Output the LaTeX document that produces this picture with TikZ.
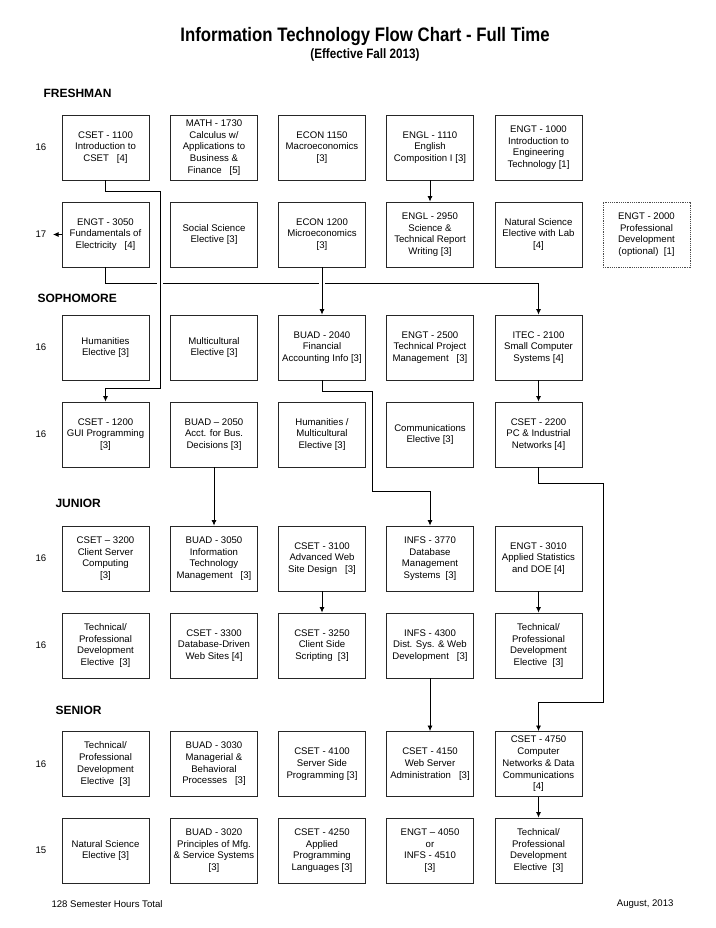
\documentclass[tikz,border=0pt]{standalone}
\usepackage{graphicx}
\usepackage{fontspec}
\setmainfont{Liberation Sans}
\usetikzlibrary{arrows.meta}

\begin{document}
\begin{tikzpicture}[x=1pt,y=-1pt,
    every node/.style={font=\fontsize{9.6}{11.7}\selectfont},
    course/.style={draw=black!85,line width=.9pt,minimum width=87pt,minimum height=65pt,inner sep=1pt,align=center},
    optional/.style={course,draw=black!70,dash pattern=on 1.2pt off 1pt},
    yearhead/.style={font=\fontsize{12}{14}\bfseries\selectfont,anchor=west},
    link/.style={line width=.8pt,-{Latex[length=5.5pt,width=5pt]}},
    hop/.style={draw=white,line width=6pt}]
    \useasboundingbox (0,0) rectangle (715,928);
    \node (title) at (365,37) {\fontsize{19.5}{22}\bfseries\selectfont\scalebox{.86}[1]{Information Technology Flow Chart - Full Time}};
    \node (subtitle) at (365,55) {\fontsize{13.6}{15}\bfseries\selectfont\scalebox{.86}[1]{(Effective Fall 2013)}};
    \node[yearhead] (fresh) at (40,93) {FRESHMAN};
    \node[yearhead] (soph) at (34,298) {SOPHOMORE};
    \node[yearhead] (junior) at (52,503) {JUNIOR};
    \node[yearhead] (senior) at (52,710) {SENIOR};
    \node (h1) at (41,147.5) {16};
    \node (h2) at (41,234.5) {17};
    \node (h3) at (41,347.5) {16};
    \node (h4) at (41,434.5) {16};
    \node (h5) at (41,558.5) {16};
    \node (h6) at (41,645.5) {16};
    \node (h7) at (41,764) {16};
    \node (h8) at (41,850.5) {15};
    \node[course] (c1100) at (105.5,147.5) {CSET - 1100\\Introduction to\\CSET~~~[4]};
    \node[course] (m1730) at (214,147.5) {MATH - 1730\\Calculus w/\\Applications to\\Business \&\\Finance~~~[5]};
    \node[course] (e1150) at (322,147.5) {ECON 1150\\Macroeconomics\\{[3]}};
    \node[course] (l1110) at (430,147.5) {ENGL - 1110\\English\\Composition I [3]};
    \node[course] (t1000) at (538.5,147.5) {ENGT - 1000\\Introduction to\\Engineering\\Technology [1]};
    \node[course] (t3050) at (105.5,234.5) {ENGT - 3050\\Fundamentals of\\Electricity~~~[4]};
    \node[course] (socsci) at (214,234.5) {Social Science\\Elective [3]};
    \node[course] (e1200) at (322,234.5) {ECON 1200\\Microeconomics\\{[3]}};
    \node[course] (l2950) at (430,234.5) {ENGL - 2950\\Science \&\\Technical Report\\Writing [3]};
    \node[course] (natlab) at (538.5,234.5) {Natural Science\\Elective with Lab\\{[4]}};
    \node[optional] (t2000) at (646.5,234.5) {ENGT - 2000\\Professional\\Development\\(optional)~~[1]};
    \node[course] (hum1) at (105.5,347.5) {Humanities\\Elective [3]};
    \node[course] (multi1) at (214,347.5) {Multicultural\\Elective [3]};
    \node[course] (b2040) at (322,347.5) {BUAD - 2040\\Financial\\Accounting Info [3]};
    \node[course] (t2500) at (430,347.5) {ENGT - 2500\\Technical Project\\Management~~~[3]};
    \node[course] (i2100) at (538.5,347.5) {ITEC - 2100\\Small Computer\\Systems [4]};
    \node[course] (c1200) at (105.5,434.5) {CSET - 1200\\GUI Programming\\{[3]}};
    \node[course] (b2050) at (214,434.5) {BUAD – 2050\\Acct. for Bus.\\Decisions [3]};
    \node[course] (hummul) at (322,434.5) {Humanities /\\Multicultural\\Elective [3]};
    \node[course] (comm) at (430,434.5) {Communications\\Elective [3]};
    \node[course] (c2200) at (538.5,434.5) {CSET - 2200\\PC \& Industrial\\Networks [4]};
    \node[course] (c3200) at (105.5,558.5) {CSET – 3200\\Client Server\\Computing\\{[3]}};
    \node[course] (b3050) at (214,558.5) {BUAD - 3050\\Information\\Technology\\Management~~~[3]};
    \node[course] (c3100) at (322,558.5) {CSET - 3100\\Advanced Web\\Site Design~~~[3]};
    \node[course] (i3770) at (430,558.5) {INFS - 3770\\Database\\Management\\Systems~~[3]};
    \node[course] (t3010) at (538.5,558.5) {ENGT - 3010\\Applied Statistics\\and DOE [4]};
    \node[course] (tpd1) at (105.5,645.5) {Technical/\\Professional\\Development\\Elective~~[3]};
    \node[course] (c3300) at (214,645.5) {CSET - 3300\\Database-Driven\\Web Sites [4]};
    \node[course] (c3250) at (322,645.5) {CSET - 3250\\Client Side\\Scripting~~[3]};
    \node[course] (i4300) at (430,645.5) {INFS - 4300\\Dist. Sys. \& Web\\Development~~~[3]};
    \node[course] (tpd2) at (538.5,645.5) {Technical/\\Professional\\Development\\Elective~~[3]};
    \node[course] (tpd3) at (105.5,764) {Technical/\\Professional\\Development\\Elective~~[3]};
    \node[course] (b3030) at (214,764) {BUAD - 3030\\Managerial \&\\Behavioral\\Processes~~~[3]};
    \node[course] (c4100) at (322,764) {CSET - 4100\\Server Side\\Programming [3]};
    \node[course] (c4150) at (430,764) {CSET - 4150\\Web Server\\Administration~~~[3]};
    \node[course] (c4750) at (538.5,764) {CSET - 4750\\Computer\\Networks \& Data\\Communications\\{[4]}};
    \node[course] (natsci) at (105.5,850.5) {Natural Science\\Elective [3]};
    \node[course] (b3020) at (214,850.5) {BUAD - 3020\\Principles of Mfg.\\\& Service Systems\\{[3]}};
    \node[course] (c4250) at (322,850.5) {CSET - 4250\\Applied\\Programming\\Languages [3]};
    \node[course] (t4050) at (430,850.5) {ENGT – 4050\\or\\INFS - 4510\\{[3]}};
    \node[course] (tpd4) at (538.5,850.5) {Technical/\\Professional\\Development\\Elective~~[3]};
    \node[anchor=west] (total) at (48,904) {128 Semester Hours Total};
    \node[anchor=east] (date) at (677,904) {August, 2013};
    \coordinate (p17) at (53,234.5);
    \draw[link] (t3050.west) -- (p17);
    \draw[link] (l1110) -- (l2950);
    \draw[link] (t3050.south) -- ++(0,16) -| (i2100.north);
    \draw[hop] (160,279) -- (160,287);
    \draw[hop] (322,279) -- (322,287);
    \draw[link] (c1100.south) -- ++(0,11) -| (160,388) -| (c1200.north);
    \draw[link] (e1200) -- (b2040);
    \draw[link] (i2100) -- (c2200);
    \draw[link] (b2040.south) -- ++(0,11) -| (372,491) -| (i3770.north);
    \draw[link] (c2200.south) -- ++(0,16) -| (603,702) -| (c4750.north);
    \draw[link] (b2050) -- (b3050);
    \draw[link] (c3100) -- (c3250);
    \draw[link] (t3010) -- (tpd2);
    \draw[link] (i4300) -- (c4150);
    \draw[link] (c4750) -- (tpd4);
\end{tikzpicture}
\end{document}
